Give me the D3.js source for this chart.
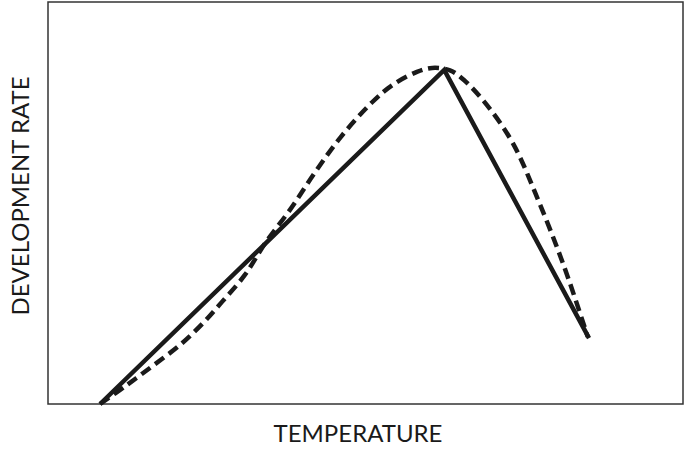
<!DOCTYPE html>
<html>
<head>
<meta charset="utf-8">
<script src="https://cdn.jsdelivr.net/npm/d3@7"></script>
<style>
  body { margin: 0; background: #fff; }
  text { font-family: Lato, "Open Sans", sans-serif; fill: #1a1a1a; }
</style>
</head>
<body>
<svg width="685" height="451"></svg>
<script>
  // temperature (x) and development rate (y), both in arbitrary 0-100 units
  const linearTemp = [8.2, 62.4, 85.2];
  const linearRate = [0, 83.1, 16.4];

  const curveTemp = [8.2, 12.4, 16.5, 20.8, 24.4, 27.4, 31.0, 34.2, 38.1, 42.0, 46.1, 51.0, 54.3, 58.1, 60.5, 63.3, 65.5, 69.1, 73.2, 77.2, 81.3, 85.0];
  const curveRate = [0, 4.7, 9.5, 14.7, 20.1, 25.4, 32.1, 40.0, 48.3, 57.5, 66.4, 75.0, 79.4, 82.6, 83.6, 83.0, 80.6, 74.4, 64.9, 50.7, 34.1, 16.7];

  const xLabel = "TEMPERATURE";
  const yLabel = "DEVELOPMENT RATE";

  const width = 685;
  const height = 451;
  const margin = { top: 2, right: 2, bottom: 47, left: 48 };

  const svg = d3.select("svg");

  const xScale = d3
    .scaleLinear()
    .domain([0, 100])
    .range([margin.left, width - margin.right]);

  const yScale = d3
    .scaleLinear()
    .domain([0, 100])
    .range([height - margin.bottom, margin.top]);

  const linearData = linearTemp.map((t, i) => ({ t, r: linearRate[i] }));
  const curveData = curveTemp.map((t, i) => ({ t, r: curveRate[i] }));

  // frame
  svg
    .append("rect")
    .attr("x", margin.left)
    .attr("y", margin.top)
    .attr("width", width - margin.left - margin.right)
    .attr("height", height - margin.top - margin.bottom)
    .attr("fill", "none")
    .attr("stroke", "#333")
    .attr("stroke-width", 1.5);

  const line = d3
    .line()
    .x(d => xScale(d.t))
    .y(d => yScale(d.r));

  svg
    .append("path")
    .attr("d", line.curve(d3.curveCatmullRom)(curveData))
    .attr("fill", "none")
    .attr("stroke", "#1a1a1a")
    .attr("stroke-width", 4.5)
    .attr("stroke-dasharray", "11,6");

  svg
    .append("path")
    .attr("d", line.curve(d3.curveLinear)(linearData))
    .attr("fill", "none")
    .attr("stroke", "#1a1a1a")
    .attr("stroke-width", 4.5)
    .attr("stroke-linejoin", "miter");

  // axis titles
  svg
    .append("text")
    .attr("x", 358)
    .attr("y", 442)
    .attr("text-anchor", "middle")
    .attr("font-size", 24)
    .text(xLabel);

  svg
    .append("text")
    .attr("transform", "translate(29, 196) rotate(-90)")
    .attr("text-anchor", "middle")
    .attr("font-size", 24)
    .text(yLabel);
</script>
</body>
</html>
